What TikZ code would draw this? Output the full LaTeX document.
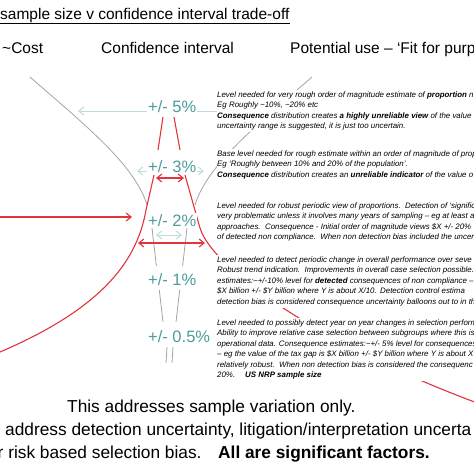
\documentclass[tikz,border=0pt]{standalone}
\usepackage{fontspec}
\setmainfont{Liberation Sans}
\usetikzlibrary{arrows.meta}

\definecolor{tealtext}{HTML}{4E9C9C}
\definecolor{palecol}{HTML}{BFDCDC}
\definecolor{redcol}{HTML}{E2343E}
\definecolor{graycol}{HTML}{A3A3A3}

\begin{document}
\begin{tikzpicture}[x = 1pt, y = -1pt, > = {Straight Barb[length = 5pt, width = 8pt]},
	heading/.style = {anchor = base west, inner sep = 0pt, font = \fontsize{15.5}{18}\selectfont},
	pct/.style = {anchor = base west, inner xsep = 1pt, inner ysep = 1pt, fill = white, text = tealtext, font = \fontsize{16.5}{18}\selectfont},
	note/.style = {anchor = north west, align = left, fill = white, inner xsep = 0pt, inner ysep = 1.5pt, font = \fontsize{7.9}{10.5}\selectfont\itshape},
	closing/.style = {anchor = base west, inner sep = 0pt, font = \fontsize{17.3}{20}\selectfont},
	grayline/.style = {draw = graycol, line width = 0.8pt},
	redline/.style = {draw = redcol, line width = 1.1pt},
	redarrow/.style = {draw = redcol, line width = 1.1pt},
	palearrow/.style = {draw = palecol, line width = 1pt, <->}]

	% Frame

	\useasboundingbox (0, 0) rectangle (474, 474);
	\clip (0, 0) rectangle (474, 474);

	% Headings

	\node [heading] (title) at (0, 19.5) {sample size v confidence interval trade-off};
	\draw [line width = 0.9pt] ([yshift = -3.5pt] title.base west) -- ([yshift = -3.5pt] title.base east);

	\node [heading] (cost) at (2, 53) {\textasciitilde Cost};
	\node [heading] (interval) at (101, 53) {Confidence interval};
	\node [heading] (use) at (290, 53) {Potential use – ‘Fit for purp};

	% Cost curves + funnel (grey)

	\draw [grayline] (30, 77) .. controls (85, 125) and (135, 165) .. (147, 205);
	\draw [grayline] (312, 77) .. controls (257, 125) and (207, 165) .. (195, 205);

	\draw [grayline] (152, 228) -- (156.4, 266);
	\draw [grayline] (159.3, 290) -- (163, 322);
	\draw [grayline] (187, 228) -- (182.6, 266);
	\draw [grayline] (179.7, 290) -- (176, 322);
	\draw [grayline] (167, 347) -- (166, 363);
	\draw [grayline] (173, 347) -- (172, 363);

	% Confidence limits (red)

	\draw [redline] (163, 117) -- (158, 150);
	\draw [redline] (174, 117) -- (180, 150);
	\draw [redline] (154, 175) -- (146, 210) .. controls (138, 255) and (110, 305) .. (0, 352);
	\draw [redline] (185, 175) -- (200, 228) .. controls (212, 268) and (320, 345) .. (480, 404);

	% Interval arrows

	\draw [palearrow] (78, 111) -- (230, 111);
	\draw [palearrow] (137, 171) -- (204, 171);
	\draw [palearrow] (156, 235) -- (182, 235);

	\draw [redarrow, ->] (0, 217) -- (132, 217);
	\draw [redarrow, <->] (156, 178) -- (184, 178);
	\draw [redarrow, <->] (138, 243) -- (205, 243);

	% Interval labels

	\node [pct] (p5) at (147, 112) {+/- 5\%};
	\node [pct] (p3) at (147, 172) {+/- 3\%};
	\node [pct] (p2) at (147, 226) {+/- 2\%};
	\node [pct] (p1) at (147, 285) {+/- 1\%};
	\node [pct] (p05) at (147, 342) {+/- 0.5\%};

	% Fit for purpose notes

	\node [note] (n1) at (217, 90) {Level needed for very rough order of magnitude estimate of \textbf{proportion} n\\
		Eg Roughly \textasciitilde10\%, \textasciitilde20\% etc\\
		\textbf{Consequence} distribution creates \textbf{a highly unreliable view} of the value\\
		uncertainty range is suggested, it is just too uncertain.};

	\node [note] (n2) at (217, 149) {Base level needed for rough estimate within an order of magnitude of prop\\
		Eg ‘Roughly between 10\% and 20\% of the population’.\\
		\textbf{Consequence} distribution creates an \textbf{unreliable indicator} of the value o};

	\node [note] (n3) at (217, 201) {Level needed for robust periodic view of proportions.\ \ Detection of ‘signific\\
		very problematic unless it involves many years of sampling – eg at least a\\
		approaches.\ \ Consequence - Initial order of magnitude views \$X +/- 20\%\\
		of detected non compliance.\ \ When non detection bias included the uncert};

	\node [note] (n4) at (217, 255) {Level needed to detect periodic change in overall performance over seve\\
		Robust trend indication.\ \ Improvements in overall case selection possible.\\
		estimates:\textasciitilde+/-10\% level for \textbf{detected} consequences of non compliance –\\
		\makebox[163pt][l]{\$X billion +/- \$Y billion where Y is about X/10.}Detection control estima\\
		detection bias is considered consequence uncertainty balloons out to in th};

	\node [note] (n5) at (217, 318) {Level needed to possibly detect year on year changes in selection perform\\
		Ability to improve relative case selection between subgroups where this is\\
		operational data. Consequence estimates:\textasciitilde+/- 5\% level for consequences\\
		– eg the value of the tax gap is \$X billion +/- \$Y billion where Y is about X\\
		relatively robust.\ \ When non detection bias is considered the consequenc\\
		\makebox[28pt][l]{20\%.}\textbf{US NRP sample size}};

	% Closing remarks

	\node [closing] (c1) at (67, 412) {This addresses sample variation only.};
	\node [closing] (c2) at (5, 435) {address detection uncertainty, litigation/interpretation uncerta};
	\node [closing] (c3) at (-2.5, 458) {r risk based selection bias.};
	\node [closing, font = \fontsize{17.3}{20}\selectfont\bfseries] (c4) at (218, 458) {All are significant factors.};

\end{tikzpicture}
\end{document}
